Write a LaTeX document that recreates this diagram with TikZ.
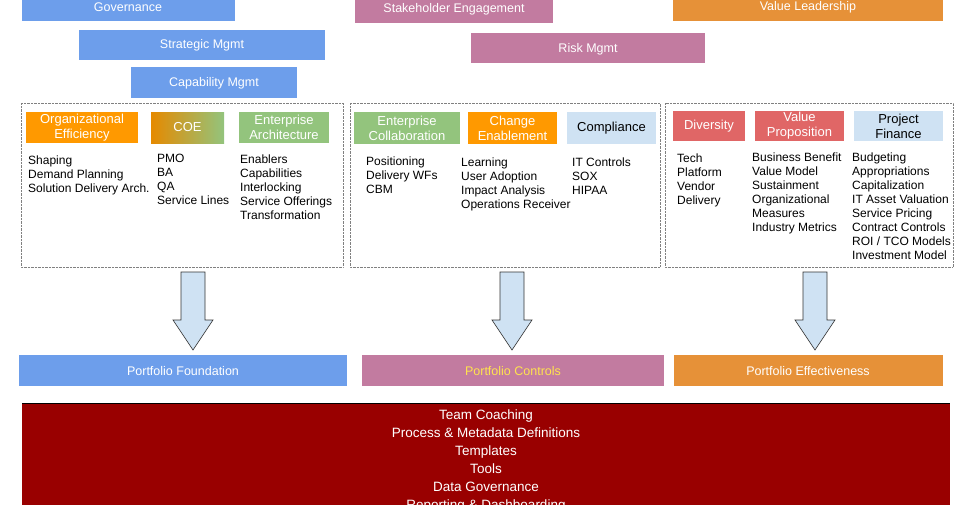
\documentclass[tikz,border=0pt]{standalone}
\usepackage{fontspec}
\setmainfont{Liberation Sans}
\definecolor{gblue}{HTML}{6D9EEB}
\definecolor{gmauve}{HTML}{C27BA0}
\definecolor{gorange}{HTML}{E69138}
\definecolor{borange}{HTML}{FF9900}
\definecolor{ggreen}{HTML}{93C47D}
\definecolor{lblue}{HTML}{CFE2F3}
\definecolor{gred}{HTML}{E06666}
\definecolor{dred}{HTML}{990000}
\definecolor{gyel}{HTML}{FFE34D}
\begin{document}
\begin{tikzpicture}[x=1pt,y=-1pt,
  bx/.style={inner sep=0pt,text=white,font=\fontsize{12.5}{13}\selectfont,align=center},
  hd/.style={inner sep=0pt,text=white,font=\fontsize{13}{15}\selectfont,align=center},
  lst/.style={anchor=north west,inner sep=0pt,font=\fontsize{12}{14}\selectfont,align=left},
  grp/.style={draw=gray,densely dotted},
  barrow/.style={fill=lblue,draw=black!80,line width=0.6pt}]
\useasboundingbox (0,0) rectangle (960,504);
\begin{scope}
\clip (0,0) rectangle (960,504);
% top bars
\fill[gblue] (22,-2) rectangle (235,21); \node[bx] (gov) at (128,7) {Governance};
\fill[gmauve] (355,-2) rectangle (553,23); \node[bx] (stk) at (454,9) {Stakeholder Engagement};
\fill[gorange] (673,-2) rectangle (943,21); \node[bx] (val) at (808,7) {Value Leadership};
\fill[gblue] (79,30) rectangle (325,60); \node[bx] (str) at (202,45) {Strategic Mgmt};
\fill[gblue] (131,67) rectangle (297,98); \node[bx] (cap) at (214,83) {Capability Mgmt};
\fill[gmauve] (471,33) rectangle (705,63); \node[bx] (risk) at (588,49) {Risk Mgmt};
% groups
\draw[grp] (21,103) rectangle (343,267);
\draw[grp] (350,103) rectangle (660,267);
\draw[grp] (665,103) rectangle (953,267);
% headers
\fill[borange] (26,112) rectangle (138,143); \node[hd] (oe) at (82,127.5) {Organizational\\Efficiency};
\shade[left color=borange!90!black,right color=ggreen] (151,112) rectangle (224,143); \node[hd] (coe) at (187.5,127.5) {COE};
\fill[ggreen] (239,112) rectangle (329,143); \node[hd] (ea) at (284,127.5) {Enterprise\\Architecture};
\fill[ggreen] (354,112) rectangle (460,144); \node[hd] (ec) at (407,128) {Enterprise\\Collaboration};
\fill[borange] (468,112) rectangle (557,144); \node[hd] (ce) at (512.5,128) {Change\\Enablement};
\fill[lblue] (567,112) rectangle (656,144); \node[hd,text=black] (comp) at (611.5,128) {Compliance};
\fill[gred] (673,111) rectangle (745,141); \node[hd] (div) at (709,126) {Diversity};
\fill[gred] (755,111) rectangle (844,141); \node[hd] (vp) at (799.5,126) {Value\\Proposition};
\fill[lblue] (854,111) rectangle (943,141); \node[hd,text=black] (pf) at (898.5,126) {Project\\Finance};
% lists
\node[lst] (l1) at (28,156) {Shaping\\Demand Planning\\Solution Delivery Arch.};
\node[lst] (l2) at (157,154) {PMO\\BA\\QA\\Service Lines};
\node[lst] (l3) at (240,155) {Enablers\\Capabilities\\Interlocking\\Service Offerings\\Transformation};
\node[lst] (l4) at (366,157) {Positioning\\Delivery WFs\\CBM};
\node[lst] (l5) at (461,158) {Learning\\User Adoption\\Impact Analysis\\Operations Receiver};
\node[lst] (l6) at (572,158) {IT Controls\\SOX\\HIPAA};
\node[lst] (l7) at (677,154) {Tech\\Platform\\Vendor\\Delivery};
\node[lst] (l8) at (752,153) {Business Benefit\\Value Model\\Sustainment\\Organizational\\Measures\\Industry Metrics};
\node[lst] (l9) at (852,153) {Budgeting\\Appropriations\\Capitalization\\IT Asset Valuation\\Service Pricing\\Contract Controls\\ROI / TCO Models\\Investment Model};
% block arrows
\foreach \cx/\nm in {193/a1,512/a2,815/a3}{
  \draw[barrow] (\cx-12,272) -- (\cx+12,272) -- (\cx+12,320) -- (\cx+20,320) -- (\cx,350) -- (\cx-20,320) -- (\cx-12,320) -- cycle;
}
% portfolio bars
\fill[gblue] (19,355) rectangle (347,386); \node[bx] (pfd) at (183,371) {Portfolio Foundation};
\fill[gmauve] (362,355) rectangle (664,386); \node[bx,text=gyel] (pfc) at (513,371) {Portfolio Controls};
\fill[gorange] (674,355) rectangle (943,386); \node[bx] (pfe) at (808,371) {Portfolio Effectiveness};
% bottom
\fill[dred] (22,403) rectangle (950,520);
\draw[black] (22,403) -- (950,403);
\node[inner sep=0pt,text=white,align=center,anchor=north,font=\fontsize{13.5}{18}\selectfont] (bot) at (486,410)
 {Team Coaching\\Process \& Metadata Definitions\\Templates\\Tools\\Data Governance\\Reporting \& Dashboarding};
\end{scope}
\end{tikzpicture}
\end{document}
